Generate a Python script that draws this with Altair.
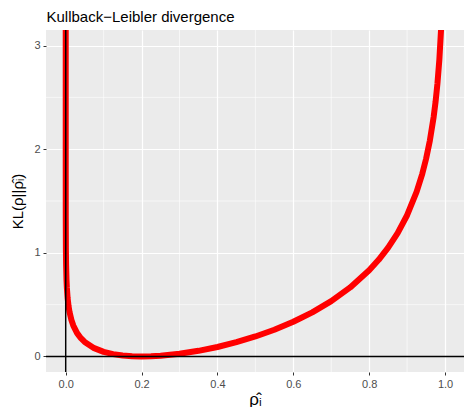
import altair as alt
import pandas as pd

# rho-hat values and KL divergence values (rho = 0.2)
rho_hat = [1e-9, 1e-8, 1e-7, 1e-6, 1e-5, 1e-4, 5e-4, 0.001, 0.002, 0.003, 0.005,
           0.0075, 0.01, 0.015, 0.02, 0.03, 0.04, 0.05, 0.075, 0.1, 0.125, 0.15,
           0.175, 0.2, 0.225, 0.25, 0.3, 0.35, 0.4, 0.45, 0.5, 0.55, 0.6, 0.65,
           0.7, 0.75, 0.8, 0.825, 0.85, 0.875, 0.9, 0.925, 0.94, 0.95, 0.96,
           0.97, 0.975, 0.98, 0.985, 0.99, 0.995]
kl = [3.64, 3.184, 2.723, 2.263, 1.802, 1.342, 1.020, 0.882, 0.744, 0.664, 0.563,
      0.484, 0.429, 0.352, 0.298, 0.2253, 0.176, 0.1398, 0.0800, 0.0444, 0.0223, 0.0090,
      0.0021, 0.0, 0.0018, 0.0070, 0.0257, 0.0542, 0.0915, 0.1375, 0.1927, 0.2580, 0.3348, 0.4256,
      0.5341, 0.6662, 0.8318, 0.9324, 1.0498, 1.1898, 1.3627, 1.5874, 1.7627, 1.9064, 2.0829,
      2.3109, 2.4558, 2.6333, 2.8624, 3.1857, 3.74]

x_major = [0.0, 0.2, 0.4, 0.6, 0.8, 1.0]
x_minor = [0.1, 0.3, 0.5, 0.7, 0.9]
y_major = [0, 1, 2, 3]
y_minor = [0.5, 1.5, 2.5]

x_domain = [-0.052, 1.05]
y_domain = [-0.15, 3.15]

df = pd.DataFrame({"x": rho_hat, "y": kl})

xs = alt.Scale(domain=x_domain, nice=False, zero=False)
ys = alt.Scale(domain=y_domain, nice=False, zero=False)

W, H = 418, 342

x_axis = alt.Axis(values=x_major, format=".1f", grid=True, gridColor="white",
                  gridWidth=1.2, labelColor="#4D4D4D", labelFontSize=11,
                  tickColor="#333333", tickSize=3, domain=False,
                  titleFontSize=17, titleColor="black", titleFontWeight="normal",
                  labelPadding=3, titlePadding=2)
y_axis = alt.Axis(values=y_major, format="d", grid=True, gridColor="white",
                  gridWidth=1.2, labelColor="#4D4D4D", labelFontSize=11,
                  tickColor="#333333", tickSize=3, domain=False,
                  titleFontSize=15, titleColor="black", titleFontWeight="normal",
                  labelPadding=3, titlePadding=8)

X_TITLE = "ρ̂ᵢ"
Y_TITLE = "KL(ρ||ρ̂ᵢ)"


def ex():
    return alt.X("x:Q", scale=xs, title=X_TITLE, axis=x_axis)


def ey():
    return alt.Y("y:Q", scale=ys, title=Y_TITLE, axis=y_axis)


minor_vx = alt.Chart(pd.DataFrame({"x": x_minor})).mark_rule(
    color="white", strokeWidth=0.6).encode(x=ex())
minor_hy = alt.Chart(pd.DataFrame({"y": y_minor})).mark_rule(
    color="white", strokeWidth=0.6).encode(y=ey())

curve = alt.Chart(df).mark_line(color="#FF0000", strokeWidth=6, clip=True,
                                strokeJoin="round", strokeCap="butt").encode(x=ex(), y=ey())

hline = alt.Chart(pd.DataFrame({"y": [0]})).mark_rule(color="black", strokeWidth=1.5).encode(y=ey())
vline = alt.Chart(pd.DataFrame({"x": [0]})).mark_rule(color="black", strokeWidth=1.5).encode(x=ex())

chart = alt.layer(minor_vx, minor_hy, curve, hline, vline).properties(
    width=W, height=H, padding={"left": 2, "top": 2, "right": 0, "bottom": 0},
    title=alt.TitleParams("Kullback−Leibler divergence", anchor="start", frame="group",
                          fontSize=15, fontWeight="normal", color="black", offset=4,
                          dx=0.5, font="Liberation Sans")
).configure(font="Liberation Sans").configure_view(fill="#EBEBEB", stroke=None)

chart.save("out.html", embed_options={"renderer": "svg", "actions": False})
